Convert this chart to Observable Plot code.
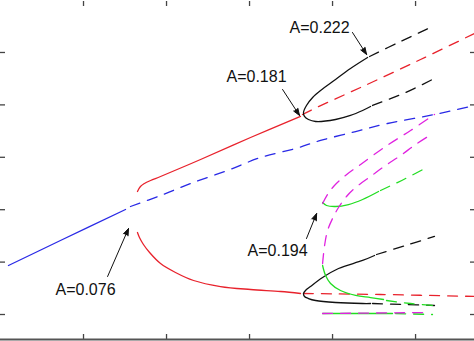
<!DOCTYPE html>
<html><head><meta charset="utf-8">
<script src="https://cdn.jsdelivr.net/npm/d3@7"></script>
<script src="https://cdn.jsdelivr.net/npm/@observablehq/plot@0.6"></script>
<style>body{margin:0;background:#fff}#chart svg{display:block;overflow:visible}</style>
</head><body><div id="chart"></div>
<script>
// ---- branch data: parameter A (x) and state value (y) ----
const blueSolidA = [0.0048, 0.0361, 0.0753];
const blueSolidY = [1.935, 2.412, 3.004];
const blueDashA = [0.0783, 0.0964, 0.1145, 0.1367, 0.1566, 0.1777, 0.1928, 0.2139, 0.2331, 0.2614, 0.2855];
const blueDashY = [3.061, 3.271, 3.500, 3.748, 3.996, 4.168, 4.321, 4.492, 4.645, 4.817, 4.989];

const redUpSolidA = [0.0825, 0.0843, 0.0867, 0.0904, 0.0964, 0.1205, 0.1506, 0.1807];
const redUpSolidY = [3.347, 3.443, 3.500, 3.557, 3.633, 3.958, 4.378, 4.779];
const redUpDashA = [0.1819, 0.1904, 0.2169, 0.2530, 0.2855];
const redUpDashY = [4.817, 4.950, 5.332, 5.866, 6.363];
const redLowSolidA = [0.0825, 0.0837, 0.0861, 0.0898, 0.0964, 0.1054, 0.1163, 0.1325, 0.1506, 0.1687, 0.1807];
const redLowSolidY = [2.565, 2.469, 2.336, 2.183, 1.973, 1.802, 1.649, 1.534, 1.477, 1.439, 1.401];
const redLowDashA = [0.1825, 0.2289, 0.2855];
const redLowDashY = [1.401, 1.382, 1.344];

const blackUpSolidA = [0.2211, 0.2108, 0.2018, 0.1928, 0.1880, 0.1843, 0.1825, 0.1831, 0.1855, 0.1898, 0.2018, 0.2108, 0.2181, 0.2229];
const blackUpSolidY = [5.905, 5.695, 5.485, 5.275, 5.141, 4.989, 4.855, 4.779, 4.721, 4.683, 4.721, 4.798, 4.893, 4.969];
const blackUpDash1A = [0.2223, 0.2410, 0.2602];
const blackUpDash1Y = [5.924, 6.210, 6.496];
const blackUpDash2A = [0.2241, 0.2440, 0.2602];
const blackUpDash2Y = [4.989, 5.237, 5.485];

const blackLowSolidA = [0.2253, 0.2181, 0.2036, 0.1940, 0.1867, 0.1837, 0.1825, 0.1831, 0.1855, 0.1898, 0.2018, 0.2181, 0.2229];
const blackLowSolidY = [2.126, 2.031, 1.878, 1.706, 1.534, 1.458, 1.401, 1.344, 1.305, 1.267, 1.229, 1.210, 1.210];
const blackLowDash1A = [0.2265, 0.2440, 0.2614];
const blackLowDash1Y = [2.145, 2.317, 2.489];
const blackLowDash2A = [0.2241, 0.2440, 0.2614];
const blackLowDash2Y = [1.210, 1.191, 1.172];

const greenUpSolidA = [0.1940, 0.1964, 0.2018, 0.2096, 0.2181, 0.2277];
const greenUpSolidY = [3.137, 3.080, 3.061, 3.099, 3.195, 3.347];
const greenUpDashA = [0.2289, 0.2440, 0.2578];
const greenUpDashY = [3.366, 3.595, 3.824];
const greenMidSolidA = [0.1940, 0.1958, 0.1988, 0.2048, 0.2139, 0.2229, 0.2307];
const greenMidSolidY = [1.935, 1.744, 1.592, 1.458, 1.363, 1.324, 1.286];
const greenMidDashA = [0.2325, 0.2470, 0.2614];
const greenMidDashY = [1.267, 1.210, 1.172];
const greenLowSolidA = [0.1940, 0.2361];
const greenLowSolidY = [1.019, 1.019];
const greenLowDashA = [0.2380, 0.2602];
const greenLowDashY = [1.019, 1.000];

const magenta1A = [0.1940, 0.1970, 0.2006, 0.2078, 0.2169, 0.2319, 0.2470, 0.2614];
const magenta1Y = [3.118, 3.290, 3.443, 3.653, 3.863, 4.206, 4.511, 4.817];
const magenta2A = [0.1940, 0.1952, 0.1970, 0.2000, 0.2036, 0.2084, 0.2139, 0.2229, 0.2319, 0.2410, 0.2500, 0.2584];
const magenta2Y = [1.973, 2.317, 2.603, 2.832, 3.042, 3.252, 3.424, 3.634, 3.843, 4.034, 4.244, 4.416];
const magenta3A = [0.1940, 0.2590];
const magenta3Y = [1.019, 1.038];

// ---- annotations ----
const labelText = ["A=0.076", "A=0.181", "A=0.222", "A=0.194"];
const labelA = [0.0512, 0.1542, 0.1922, 0.1669];
const labelY = [1.477, 5.542, 6.477, 2.221];
const arrowFromA = [0.0645, 0.1699, 0.2120, 0.1843];
const arrowFromY = [1.725, 5.294, 6.382, 2.450];
const arrowToA = [0.0771, 0.1801, 0.2205, 0.1904];
const arrowToY = [2.641, 4.798, 5.962, 2.927];

// ---- ticks ----
const xTicks = [0.05, 0.10, 0.15, 0.20, 0.25];
const yTicks = [1, 2, 3, 4, 5, 6];

const C = {blue: "#2a2ae6", red: "#e8222c", black: "#111", green: "#22dd22", magenta: "#e022e0"};
const DASH = "10,8";
const zip = (a, y) => a.map((v, i) => ({A: v, y: y[i]}));

const series = [
  [blueSolidA, blueSolidY, C.blue, false],
  [blueDashA, blueDashY, C.blue, true],
  [redUpSolidA, redUpSolidY, C.red, false],
  [redUpDashA, redUpDashY, C.red, true],
  [redLowSolidA, redLowSolidY, C.red, false],
  [redLowDashA, redLowDashY, C.red, true],
  [blackUpSolidA, blackUpSolidY, C.black, false],
  [blackUpDash1A, blackUpDash1Y, C.black, true],
  [blackUpDash2A, blackUpDash2Y, C.black, true],
  [blackLowSolidA, blackLowSolidY, C.black, false],
  [blackLowDash1A, blackLowDash1Y, C.black, true],
  [blackLowDash2A, blackLowDash2Y, C.black, true],
  [greenUpSolidA, greenUpSolidY, C.green, false],
  [greenUpDashA, greenUpDashY, C.green, true],
  [greenMidSolidA, greenMidSolidY, C.green, false],
  [greenMidDashA, greenMidDashY, C.green, true],
  [greenLowSolidA, greenLowSolidY, C.green, false],
  [greenLowDashA, greenLowDashY, C.green, true],
  [magenta1A, magenta1Y, C.magenta, true],
  [magenta2A, magenta2Y, C.magenta, true],
  [magenta3A, magenta3Y, C.magenta, true]
];

const lineMarks = series.map(([a, y, color, dashed]) =>
  Plot.line(zip(a, y), {x: "A", y: "y", stroke: color, strokeWidth: 1.3,
    curve: "catmull-rom", strokeDasharray: dashed ? DASH : null}));

const labels = labelText.map((t, i) => ({t, A: labelA[i], y: labelY[i]}));
const arrows = arrowFromA.map((v, i) => ({x1: v, y1: arrowFromY[i], x2: arrowToA[i], y2: arrowToY[i]}));

const noText = () => "";
const axisStyle = {tickSize: -5, tickFormat: noText, label: null, stroke: "#444", strokeWidth: 1.3};

const chart = Plot.plot({
  width: 474, height: 341,
  marginTop: 0, marginBottom: 2, marginLeft: 0, marginRight: 0,
  style: {fontFamily: "'Liberation Sans', Arial, sans-serif", background: "#fff"},
  x: {domain: [0, 0.2855]},
  y: {domain: [0.523, 6.992]},
  marks: [
    Plot.axisX(xTicks, {anchor: "bottom", ...axisStyle}),
    Plot.axisX(xTicks, {anchor: "top", ...axisStyle}),
    Plot.axisY(yTicks, {anchor: "left", ...axisStyle}),
    Plot.axisY(yTicks, {anchor: "right", ...axisStyle}),
    Plot.frame({anchor: "bottom", stroke: "#555", strokeWidth: 2}),
    ...lineMarks,
    Plot.arrow(arrows, {x1: "x1", y1: "y1", x2: "x2", y2: "y2", stroke: "#111", fill: "#111",
      strokeWidth: 1, headLength: 11, headAngle: 40}),
    Plot.text(labels, {x: "A", y: "y", text: "t", fontSize: 16, fill: "#111"})
  ]
});
document.getElementById("chart").appendChild(chart);
</script>
</body></html>
